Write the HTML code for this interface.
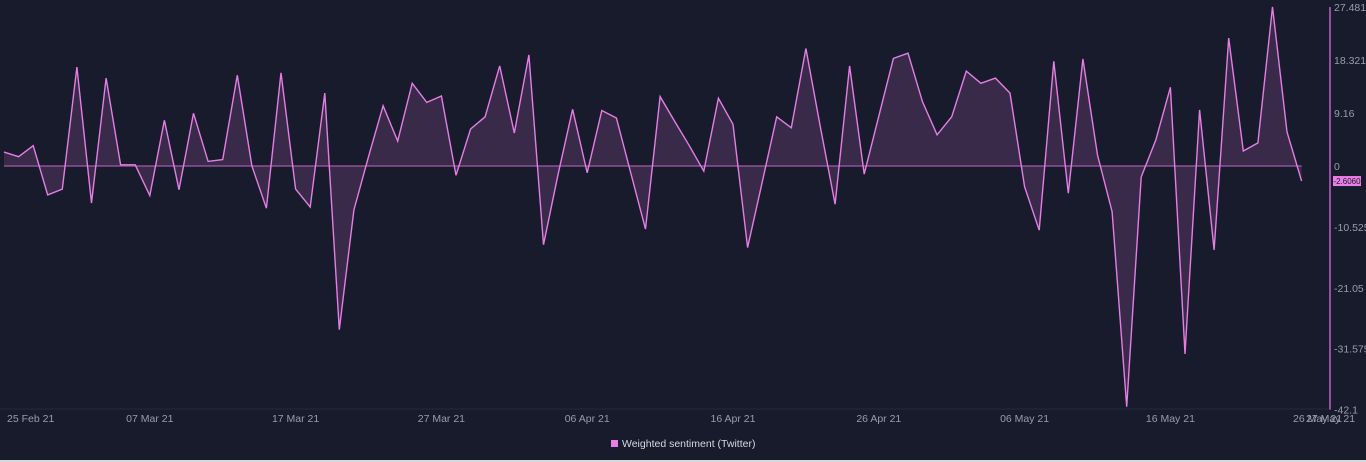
<!DOCTYPE html>
<html><head><meta charset="utf-8"><style>
html,body{margin:0;padding:0;background:#181b2b;}
svg{display:block;font-family:"Liberation Sans",sans-serif;}
</style></head><body>
<svg id="chart" width="1366" height="462" viewBox="0 0 1366 462">
<rect x="0" y="0" width="1366" height="462" fill="#181b2b"/>
<rect x="0" y="460" width="1366" height="2" fill="#d8d8dc"/>
<line x1="0" y1="409" x2="1330" y2="409" stroke="#262a3a" stroke-width="1"/>
<g id="marks"></g>
<g id="yaxis"></g>
<g id="xaxis"></g>
<g>
<rect x="611" y="440" width="7" height="7" fill="#e97ee6"/>
<text x="622" y="447" font-size="10.5" fill="#d8d8e0">Weighted sentiment (Twitter)</text>
</g>
</svg>
<script>
const startDate = [2021, 1, 25];
const values = [2.4,1.6,3.5,-5.0,-4.0,17.1,-6.4,15.2,0.2,0.2,
-5.1,7.9,-4.1,9.1,0.8,1.1,15.7,0,-7.3,16.1,
-4.0,-7.1,12.6,-28.3,-7.6,1.6,10.4,4.3,14.3,11.0,
12.1,-1.6,6.4,8.5,17.3,5.7,19.2,-13.6,-1.5,9.8,
-1.2,9.6,8.3,-1.3,-10.9,12.0,7.7,3.5,-0.9,11.7,
7.2,-14.1,-2.8,8.5,6.6,20.3,6.6,-6.6,17.3,-1.4,
8.6,18.6,19.5,11.1,5.4,8.5,16.4,14.3,15.2,12.6,
-3.6,-11.1,18.1,-4.7,18.5,1.9,-7.9,-41.6,-1.9,4.5,
13.6,-32.5,9.7,-14.5,22.1,2.6,4.0,27.5,5.9,-2.6];
const yTicks = [27.481,18.321,9.16,0,-10.525,-21.05,-31.575,-42.1];
const yTickLabels = ["27.481","18.321","9.16","0","-10.525","-21.05","-31.575","-42.1"];
const xTickIdx = [0,10,20,30,40,50,60,70,80,90,91];
const xTickLabels = ["25 Feb 21","07 Mar 21","17 Mar 21","27 Mar 21","06 Apr 21","16 Apr 21","26 Apr 21","06 May 21","16 May 21","26 May 21","27 May 21"];
const lastLabel = "-2.6060";

const NS="http://www.w3.org/2000/svg";
const xOf = i => 4 + i*14.58;
const yOf = v => 166 - v*(166-7)/27.481;
function mk(tag, attrs, parent){const e=document.createElementNS(NS,tag);for(const k in attrs)e.setAttribute(k,attrs[k]);parent.appendChild(e);return e;}
const marks=document.getElementById('marks');
let pts=values.map((v,i)=>xOf(i).toFixed(1)+','+yOf(v).toFixed(1));
const area=mk('path',{d:'M'+xOf(0)+','+yOf(0)+' L'+pts.join(' L')+' L'+xOf(values.length-1)+','+yOf(0)+' Z',fill:'#3a2a4a'},marks);


const zl=mk('line',{x1:xOf(0),y1:yOf(0),x2:xOf(values.length-1),y2:yOf(0),stroke:'#a45aa8','stroke-width':1.2},marks);


const line=mk('polyline',{points:pts.join(' '),fill:'none',stroke:'#e47ee4','stroke-width':1.4,'stroke-linejoin':'miter'},marks);



const ya=document.getElementById('yaxis');
const al=mk('line',{x1:1330,y1:yOf(yTicks[0]),x2:1330,y2:yOf(yTicks[yTicks.length-1]),stroke:'#c060c8','stroke-width':1.5},ya);


yTicks.forEach((t,k)=>{
 const tx=mk('text',{x:1334,y:yOf(t)+4,'font-size':10.5,fill:'#9a9cab'},ya);
 tx.textContent=yTickLabels[k];
 
 
});
const lv=values[values.length-1];
const br=mk('rect',{x:1333,y:yOf(lv)-5,width:28,height:10,fill:'#e97ee6'},ya);


const bt=mk('text',{x:1347,y:yOf(lv)+3,'font-size':8,fill:'#181b2b','text-anchor':'middle'},ya);
bt.textContent=lastLabel;



const xa=document.getElementById('xaxis');
xTickIdx.forEach((idx,k)=>{
 let x=xOf(idx), anchor='middle';
 if(k===0){x=7;anchor='start';}
 if(idx>=90){anchor='start';x=(idx===90)?1293:1306;}
 const tx=mk('text',{x:x,y:422,'font-size':10.5,fill:'#9a9cab','text-anchor':anchor},xa);
 tx.textContent=xTickLabels[k];
 
 
});
</script>
</body></html>
